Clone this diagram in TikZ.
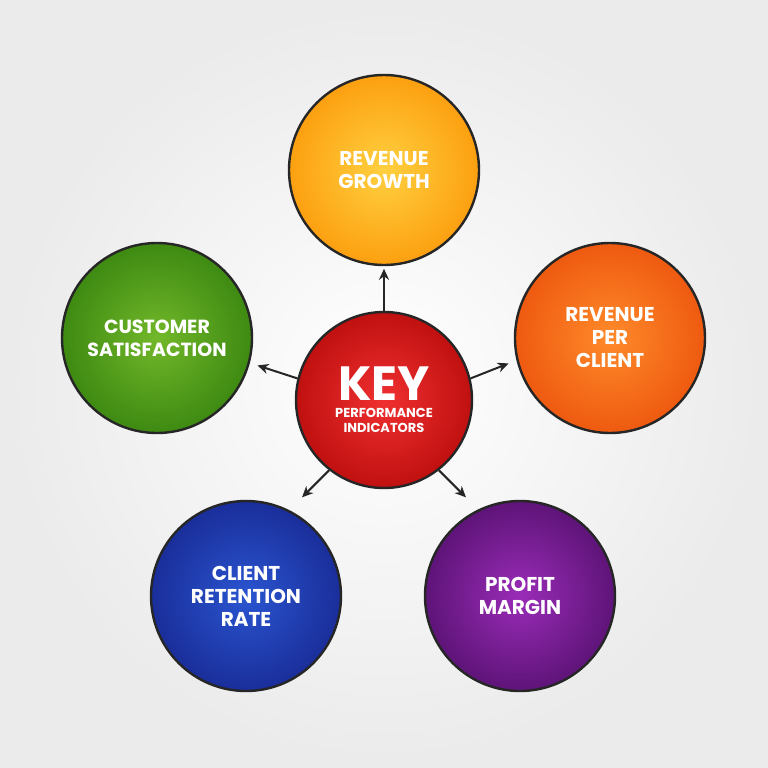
\documentclass[tikz,border=0pt]{standalone}
\usepackage{fontspec}
\setmainfont{Poppins}
\usetikzlibrary{arrows.meta}
\definecolor{gIn}{HTML}{72B82A}\definecolor{gOut}{HTML}{3E8A12}
\definecolor{bIn}{HTML}{2A55D0}\definecolor{bOut}{HTML}{1A2E9A}
\definecolor{pIn}{HTML}{9A2CB8}\definecolor{pOut}{HTML}{5E1478}
\definecolor{oIn}{HTML}{FF8A2A}\definecolor{oOut}{HTML}{EE5A10}
\definecolor{yIn}{HTML}{FFD040}\definecolor{yOut}{HTML}{FCA010}
\definecolor{rIn}{HTML}{F03030}\definecolor{rOut}{HTML}{C01010}
\tikzset{
  kpi/.style={circle, draw=black!85, line width=2.4pt, minimum size=190pt, inner sep=0pt, align=center, text=white, font=\fontsize{20}{23}\selectfont\bfseries},
  arr/.style={-{Stealth[length=11pt,width=10pt]}, line width=2pt, black!85}
}
\begin{document}
\begin{tikzpicture}[x=1pt,y=-1pt]
\useasboundingbox (0,0) rectangle (768,768);
\shade[inner color=white, outer color=black!8] (0,0) rectangle (768,768);
\node[kpi, inner color=yIn, outer color=yOut] (t) at (384,170) {REVENUE\\GROWTH};
\node[kpi, inner color=oIn, outer color=oOut] (r) at (610,338) {REVENUE\\PER\\CLIENT};
\node[kpi, inner color=gIn, outer color=gOut, font=\fontsize{19}{23}\selectfont\bfseries] (l) at (157,338) {CUSTOMER\\SATISFACTION};
\node[kpi, inner color=bIn, outer color=bOut] (bl) at (246,596) {CLIENT\\RETENTION\\RATE};
\node[kpi, inner color=pIn, outer color=pOut] (br) at (520,596) {PROFIT\\MARGIN};
\node[kpi, minimum size=176pt, inner color=rIn, outer color=rOut, font=\fontsize{13}{15}\selectfont\bfseries] (c) at (384,400)
  {\fontsize{48}{50}\selectfont KEY\\[2pt]\fontsize{13}{15}\selectfont PERFORMANCE\\INDICATORS};
\draw[arr] (c.90) -- ++(0,-42);
\draw[arr] (c.14) -- ++(38,-15);
\draw[arr] (c.166) -- ++(-40,-13);
\draw[arr] (c.-128) -- ++(-27,27);
\draw[arr] (c.-52) -- ++(27,27);
\end{tikzpicture}
\end{document}
